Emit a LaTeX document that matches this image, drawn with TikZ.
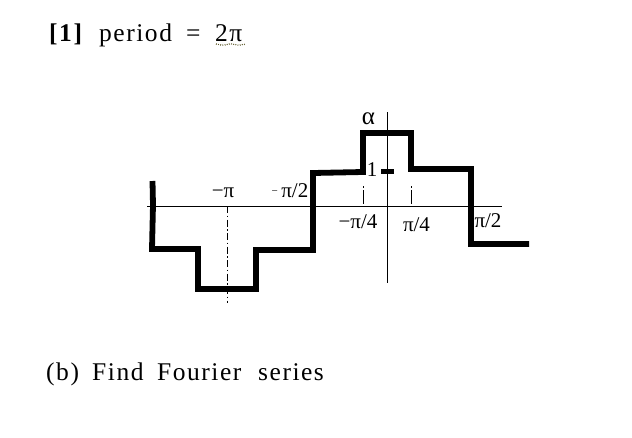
\documentclass[tikz,border=0pt]{standalone}
\usepackage{fontspec}
\setmainfont{Liberation Serif}
\newfontfamily\wide[LetterSpace=6]{Liberation Serif}
\usetikzlibrary{decorations.pathmorphing}
\tikzset{
  curve/.style={line width=5.8pt,line join=miter,line cap=butt},
  axis/.style={line width=0.9pt},
  guide/.style={line width=0.8pt,dash pattern=on 7pt off 2.5pt on 1.5pt off 2.5pt},
  lab/.style={inner sep=0pt,font=\fontsize{21}{24}\selectfont},
  head/.style={inner sep=0pt,anchor=base west,font=\wide\fontsize{25.5}{28}\selectfont}
}
\begin{document}
\begin{tikzpicture}[x=1pt,y=-1pt]
\useasboundingbox (0,0) rectangle (632,437);
\fill[white] (0,0) rectangle (632,437);
% headings
\node[head,font=\wide\bfseries\fontsize{25.5}{28}\selectfont] (title) at (49,41) {[1]};
\node[head] (period) at (99,41) {period};
\node[head] (eq) at (186,41) {=};
\node[head] (twopi) at (215,41) {2π};
\draw[line width=1pt,color=black!45!olive,dotted,decoration={zigzag,amplitude=0.6pt,segment length=2.5pt},decorate] (216,44.5) -- (245,44.5);
\node[head] (findb) at (46,380) {(b)};
\node[head] (findw) at (92,380) {Find};
\node[head] (fourier) at (157,380) {Fourier};
\node[head] (series) at (258,380) {series};
% axes
\coordinate (xl) at (147,206); \coordinate (xr) at (502,206);
\coordinate (yt) at (387,112); \coordinate (yb) at (387,283);
\draw[axis] (xl) -- (xr);
\draw[axis] (yt) -- (yb);
% guides
\coordinate (gp1) at (227,206); \coordinate (gp2) at (227,303);
\draw[guide] (gp1) -- (gp2);
\coordinate (t1a) at (363.5,186); \coordinate (t1b) at (363.5,206);
\coordinate (t2a) at (411.5,186); \coordinate (t2b) at (411.5,206);
\draw[guide,dash pattern=on 1.5pt off 2.5pt on 14pt off 2pt] (t1a) -- (t1b);
\draw[guide,dash pattern=on 1.5pt off 2.5pt on 14pt off 2pt] (t2a) -- (t2b);
% signal
\draw[curve] (152.5,181) -- (153,205) -- (152,249) -- (198,249) -- (198,289) -- (256,289) -- (256,250) -- (313,250) -- (313,173) -- (363,172) -- (363,133) -- (411,133) -- (411,169) -- (471,169) -- (471,244) -- (529,244);
\coordinate (ma) at (381,171); \coordinate (mb) at (394,171);
\draw[line width=5pt] (ma) -- (mb);
% labels
\node[lab,font=\fontsize{25}{28}\selectfont] (a) at (368.5,119) {α};
\node[lab,font=\fontsize{21}{24}\selectfont] (one) at (372,170) {1};
\node[lab] (mpi) at (223,193) {−π};
\node[lab] (mpi2) at (290,191) {\raisebox{3pt}{\fontsize{11}{11}\selectfont−}\,π/2};
\node[lab] (mpi4) at (358,222) {−π/4};
\node[lab] (pi4) at (416.5,224.5) {π/4};
\node[lab] (pi2) at (488,221) {π/2};
\end{tikzpicture}
\end{document}
